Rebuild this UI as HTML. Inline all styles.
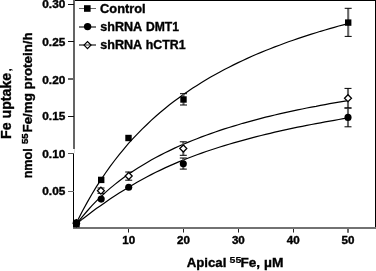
<!DOCTYPE html>
<html><head><meta charset="utf-8"><title>Fe uptake</title>
<style>html,body{margin:0;padding:0;background:#fff}body{width:376px;height:271px;overflow:hidden;position:relative}</style></head>
<body>
<svg width="376" height="271" viewBox="0 0 376 271" style="display:block;position:absolute;left:0;top:0">
<rect width="376" height="271" fill="#fff"/>
<g shape-rendering="crispEdges">
<rect x="73" y="0" width="303" height="1" fill="#000"/>
<rect x="375" y="0" width="1" height="229" fill="#000"/>
<rect x="73" y="0" width="2" height="149" fill="#646464"/>
<rect x="73" y="153" width="1" height="75" fill="#000"/>
<rect x="74" y="149" width="1" height="4" fill="#ddd"/>
<rect x="73" y="227" width="303" height="2" fill="#727272"/>
<rect x="68" y="4" width="6" height="1" fill="#111"/>
<rect x="68" y="41" width="6" height="1" fill="#111"/>
<rect x="68" y="78" width="6" height="2" fill="#666"/>
<rect x="68" y="116" width="6" height="1" fill="#111"/>
<rect x="68" y="153" width="6" height="1" fill="#555"/>
<rect x="68" y="191" width="6" height="1" fill="#666"/>
<rect x="128" y="229" width="1" height="3" fill="#222"/><rect x="128" y="232" width="1" height="1" fill="#888"/>
<rect x="183" y="229" width="1" height="3" fill="#222"/><rect x="183" y="232" width="1" height="1" fill="#888"/>
<rect x="238" y="229" width="1" height="3" fill="#222"/><rect x="238" y="232" width="1" height="1" fill="#888"/>
<rect x="293" y="229" width="1" height="3" fill="#222"/><rect x="293" y="232" width="1" height="1" fill="#888"/>
<rect x="347" y="229" width="2" height="3" fill="#666"/><rect x="347" y="232" width="2" height="1" fill="#888"/>
</g>
<path d="M78.0,219.7 L82.6,210.8 L87.2,202.4 L91.7,194.5 L96.3,186.9 L100.9,179.8 L105.5,173.0 L110.0,166.6 L114.6,160.5 L119.2,154.6 L123.8,149.1 L128.3,143.7 L132.9,138.7 L137.5,133.8 L142.1,129.1 L146.7,124.7 L151.2,120.4 L155.8,116.2 L160.4,112.3 L165.0,108.5 L169.5,104.8 L174.1,101.3 L178.7,97.9 L183.3,94.6 L187.8,91.4 L192.4,88.3 L197.0,85.4 L201.6,82.5 L206.1,79.8 L210.7,77.1 L215.3,74.5 L219.9,72.0 L224.4,69.5 L229.0,67.2 L233.6,64.9 L238.2,62.6 L242.8,60.5 L247.3,58.4 L251.9,56.3 L256.5,54.3 L261.1,52.4 L265.6,50.5 L270.2,48.7 L274.8,46.9 L279.4,45.2 L283.9,43.5 L288.5,41.8 L293.1,40.2 L297.7,38.6 L302.2,37.1 L306.8,35.6 L311.4,34.1 L316.0,32.7 L320.5,31.3 L325.1,30.0 L329.7,28.6 L334.3,27.3 L338.8,26.0 L343.4,24.8 L348.0,23.6" fill="none" stroke="#000" stroke-width="1.2"/>
<path d="M78.0,222.0 L82.6,216.3 L87.2,211.0 L91.7,205.9 L96.3,201.2 L100.9,196.7 L105.5,192.4 L110.0,188.4 L114.6,184.6 L119.2,181.0 L123.8,177.6 L128.3,174.3 L132.9,171.2 L137.5,168.2 L142.1,165.4 L146.7,162.7 L151.2,160.0 L155.8,157.5 L160.4,155.1 L165.0,152.8 L169.5,150.6 L174.1,148.4 L178.7,146.3 L183.3,144.3 L187.8,142.4 L192.4,140.5 L197.0,138.7 L201.6,136.9 L206.1,135.2 L210.7,133.6 L215.3,132.0 L219.9,130.4 L224.4,128.9 L229.0,127.5 L233.6,126.1 L238.2,124.7 L242.8,123.3 L247.3,122.1 L251.9,120.8 L256.5,119.6 L261.1,118.4 L265.6,117.2 L270.2,116.1 L274.8,115.0 L279.4,113.9 L283.9,112.9 L288.5,111.9 L293.1,110.9 L297.7,109.9 L302.2,109.0 L306.8,108.0 L311.4,107.1 L316.0,106.3 L320.5,105.4 L325.1,104.6 L329.7,103.7 L334.3,102.9 L338.8,102.2 L343.4,101.4 L348.0,100.6" fill="none" stroke="#000" stroke-width="1.2"/>
<path d="M78.0,222.7 L82.6,218.9 L87.2,215.4 L91.7,212.0 L96.3,208.6 L100.9,205.4 L105.5,202.2 L110.0,199.1 L114.6,196.1 L119.2,193.1 L123.8,190.2 L128.3,187.4 L132.9,184.7 L137.5,182.0 L142.1,179.5 L146.7,177.0 L151.2,174.6 L155.8,172.3 L160.4,170.1 L165.0,167.9 L169.5,165.9 L174.1,163.9 L178.7,161.9 L183.3,160.0 L187.8,158.2 L192.4,156.5 L197.0,154.8 L201.6,153.1 L206.1,151.5 L210.7,150.0 L215.3,148.5 L219.9,147.0 L224.4,145.6 L229.0,144.2 L233.6,142.9 L238.2,141.6 L242.8,140.3 L247.3,139.1 L251.9,137.8 L256.5,136.7 L261.1,135.5 L265.6,134.4 L270.2,133.3 L274.8,132.2 L279.4,131.2 L283.9,130.2 L288.5,129.2 L293.1,128.2 L297.7,127.2 L302.2,126.3 L306.8,125.4 L311.4,124.5 L316.0,123.6 L320.5,122.8 L325.1,121.9 L329.7,121.1 L334.3,120.3 L338.8,119.5 L343.4,118.7 L348.0,118.0" fill="none" stroke="#000" stroke-width="1.2"/>
<line x1="348.2" y1="8.3" x2="348.2" y2="36.4" stroke="#666" stroke-width="2.1"/><line x1="344.7" y1="8.3" x2="351.7" y2="8.3" stroke="#000" stroke-width="1"/><line x1="344.7" y1="36.4" x2="351.7" y2="36.4" stroke="#000" stroke-width="1"/>
<line x1="348" y1="88.4" x2="348" y2="108.0" stroke="#666" stroke-width="2.1"/><line x1="344.5" y1="88.4" x2="351.5" y2="88.4" stroke="#000" stroke-width="1"/><line x1="344.5" y1="108.0" x2="351.5" y2="108.0" stroke="#000" stroke-width="1"/>
<line x1="348" y1="108.0" x2="348" y2="126.8" stroke="#666" stroke-width="2.1"/><line x1="344.5" y1="108.0" x2="351.5" y2="108.0" stroke="#000" stroke-width="1"/><line x1="344.5" y1="126.8" x2="351.5" y2="126.8" stroke="#000" stroke-width="1"/>
<line x1="183.5" y1="93.7" x2="183.5" y2="105" stroke="#666" stroke-width="2.1"/><line x1="180.0" y1="93.7" x2="187.0" y2="93.7" stroke="#000" stroke-width="1"/><line x1="180.0" y1="105" x2="187.0" y2="105" stroke="#000" stroke-width="1"/>
<line x1="183.3" y1="141.8" x2="183.3" y2="155.3" stroke="#666" stroke-width="2.1"/><line x1="179.8" y1="141.8" x2="186.8" y2="141.8" stroke="#000" stroke-width="1"/><line x1="179.8" y1="155.3" x2="186.8" y2="155.3" stroke="#000" stroke-width="1"/>
<line x1="183.3" y1="158" x2="183.3" y2="169.1" stroke="#666" stroke-width="2.1"/><line x1="179.8" y1="158" x2="186.8" y2="158" stroke="#000" stroke-width="1"/><line x1="179.8" y1="169.1" x2="186.8" y2="169.1" stroke="#000" stroke-width="1"/>
<line x1="128.7" y1="172" x2="128.7" y2="180.2" stroke="#666" stroke-width="2.1"/><line x1="125.19999999999999" y1="172" x2="132.2" y2="172" stroke="#000" stroke-width="1"/><line x1="125.19999999999999" y1="180.2" x2="132.2" y2="180.2" stroke="#000" stroke-width="1"/>
<line x1="101.0" y1="188" x2="101.0" y2="193.3" stroke="#666" stroke-width="2.1"/><line x1="97.5" y1="188" x2="104.5" y2="188" stroke="#000" stroke-width="1"/><line x1="97.5" y1="193.3" x2="104.5" y2="193.3" stroke="#000" stroke-width="1"/>
<rect x="345.0" y="19.4" width="6.4" height="6.4" fill="#000"/>
<path d="M344.5,98.2 L348,94.7 L351.5,98.2 L348,101.7 Z" fill="#fff" stroke="#000" stroke-width="1.25"/>
<circle cx="348" cy="117.4" r="3.55" fill="#000"/>
<rect x="180.3" y="96.3" width="6.4" height="6.4" fill="#000"/>
<path d="M179.8,148.5 L183.3,145.0 L186.8,148.5 L183.3,152.0 Z" fill="#fff" stroke="#000" stroke-width="1.25"/>
<circle cx="183.3" cy="163.8" r="3.55" fill="#000"/>
<rect x="125.3" y="134.8" width="6.4" height="6.4" fill="#000"/>
<path d="M125.19999999999999,176 L128.7,172.5 L132.2,176 L128.7,179.5 Z" fill="#fff" stroke="#000" stroke-width="1.25"/>
<circle cx="128.7" cy="187.3" r="3.55" fill="#000"/>
<rect x="98.0" y="176.7" width="6.4" height="6.4" fill="#000"/>
<path d="M97.4,190.7 L100.9,187.2 L104.4,190.7 L100.9,194.2 Z" fill="#fff" stroke="#000" stroke-width="1.25"/>
<circle cx="101.2" cy="199.1" r="3.55" fill="#000"/>
<rect x="73.1" y="220.7" width="6.6" height="6.6" fill="#000"/>
<circle cx="76.4" cy="223.0" r="3.7" fill="#000"/>
<path d="M72.4,223.2 L76.4,218.8 L80.4,223.2 L76.4,227.8 Z" fill="#000"/>
<rect x="79" y="8" width="17" height="1" fill="#666" shape-rendering="crispEdges"/>
<rect x="84.0" y="5.2" width="6.6" height="6.6" fill="#000"/>
<rect x="79" y="26" width="17" height="2" fill="#777" shape-rendering="crispEdges"/>
<circle cx="87.6" cy="26.6" r="3.7" fill="#000"/>
<rect x="79" y="44" width="17" height="2" fill="#777" shape-rendering="crispEdges"/>
<path d="M84.0,45.1 L87.5,41.6 L91.0,45.1 L87.5,48.6 Z" fill="#fff" fill-opacity="0.25" stroke="#000" stroke-width="1.25"/>
<text x="100.1" y="12.8" font-size="12.2" text-anchor="start" textLength="45.6" lengthAdjust="spacingAndGlyphs" font-family="Liberation Sans, Arial, Helvetica, sans-serif" font-weight="bold" fill="#000" stroke="#000" stroke-width="0.35" >Control</text>
<text x="100.3" y="30.8" font-size="12.2" text-anchor="start" textLength="41.9" lengthAdjust="spacingAndGlyphs" font-family="Liberation Sans, Arial, Helvetica, sans-serif" font-weight="bold" fill="#000" stroke="#000" stroke-width="0.35" >shRNA</text><text x="145.9" y="30.8" font-size="12.2" text-anchor="start" textLength="33.1" lengthAdjust="spacingAndGlyphs" font-family="Liberation Sans, Arial, Helvetica, sans-serif" font-weight="bold" fill="#000" stroke="#000" stroke-width="0.35" >DMT1</text>
<text x="100.3" y="49.1" font-size="12.2" text-anchor="start" textLength="41.9" lengthAdjust="spacingAndGlyphs" font-family="Liberation Sans, Arial, Helvetica, sans-serif" font-weight="bold" fill="#000" stroke="#000" stroke-width="0.35" >shRNA</text><text x="145.8" y="49.1" font-size="12.2" text-anchor="start" textLength="39.8" lengthAdjust="spacingAndGlyphs" font-family="Liberation Sans, Arial, Helvetica, sans-serif" font-weight="bold" fill="#000" stroke="#000" stroke-width="0.35" >hCTR1</text>
<text x="42.3" y="195.2" font-size="10.2" text-anchor="start" textLength="23.0" lengthAdjust="spacingAndGlyphs" font-family="Liberation Sans, Arial, Helvetica, sans-serif" font-weight="bold" fill="#000" stroke="#000" stroke-width="0.35" >0.05</text>
<text x="42.3" y="157.7" font-size="10.2" text-anchor="start" textLength="23.0" lengthAdjust="spacingAndGlyphs" font-family="Liberation Sans, Arial, Helvetica, sans-serif" font-weight="bold" fill="#000" stroke="#000" stroke-width="0.35" >0.10</text>
<text x="42.3" y="120.2" font-size="10.2" text-anchor="start" textLength="23.0" lengthAdjust="spacingAndGlyphs" font-family="Liberation Sans, Arial, Helvetica, sans-serif" font-weight="bold" fill="#000" stroke="#000" stroke-width="0.35" >0.15</text>
<text x="42.3" y="83.8" font-size="10.2" text-anchor="start" textLength="23.0" lengthAdjust="spacingAndGlyphs" font-family="Liberation Sans, Arial, Helvetica, sans-serif" font-weight="bold" fill="#000" stroke="#000" stroke-width="0.35" >0.20</text>
<text x="42.3" y="45.7" font-size="10.2" text-anchor="start" textLength="23.0" lengthAdjust="spacingAndGlyphs" font-family="Liberation Sans, Arial, Helvetica, sans-serif" font-weight="bold" fill="#000" stroke="#000" stroke-width="0.35" >0.25</text>
<text x="42.3" y="8.2" font-size="10.2" text-anchor="start" textLength="23.0" lengthAdjust="spacingAndGlyphs" font-family="Liberation Sans, Arial, Helvetica, sans-serif" font-weight="bold" fill="#000" stroke="#000" stroke-width="0.35" >0.30</text>
<text x="122.2" y="244.2" font-size="10.0" text-anchor="start" textLength="12.9" lengthAdjust="spacingAndGlyphs" font-family="Liberation Sans, Arial, Helvetica, sans-serif" font-weight="bold" fill="#000" stroke="#000" stroke-width="0.35" >10</text>
<text x="177.0" y="244.2" font-size="10.0" text-anchor="start" textLength="12.9" lengthAdjust="spacingAndGlyphs" font-family="Liberation Sans, Arial, Helvetica, sans-serif" font-weight="bold" fill="#000" stroke="#000" stroke-width="0.35" >20</text>
<text x="231.9" y="244.2" font-size="10.0" text-anchor="start" textLength="12.9" lengthAdjust="spacingAndGlyphs" font-family="Liberation Sans, Arial, Helvetica, sans-serif" font-weight="bold" fill="#000" stroke="#000" stroke-width="0.35" >30</text>
<text x="286.7" y="244.2" font-size="10.0" text-anchor="start" textLength="12.9" lengthAdjust="spacingAndGlyphs" font-family="Liberation Sans, Arial, Helvetica, sans-serif" font-weight="bold" fill="#000" stroke="#000" stroke-width="0.35" >40</text>
<text x="341.5" y="244.2" font-size="10.0" text-anchor="start" textLength="12.9" lengthAdjust="spacingAndGlyphs" font-family="Liberation Sans, Arial, Helvetica, sans-serif" font-weight="bold" fill="#000" stroke="#000" stroke-width="0.35" >50</text>
<text x="186.7" y="266.8" font-size="12.5" text-anchor="start" textLength="39.7" lengthAdjust="spacingAndGlyphs" font-family="Liberation Sans, Arial, Helvetica, sans-serif" font-weight="bold" fill="#000" stroke="#000" stroke-width="0.35" >Apical</text>
<text x="229.6" y="263.3" font-size="9" text-anchor="start" textLength="11.7" lengthAdjust="spacingAndGlyphs" font-family="Liberation Sans, Arial, Helvetica, sans-serif" font-weight="bold" fill="#000" stroke="#000" stroke-width="0.15" >55</text>
<text x="240.4" y="266.8" font-size="12.5" text-anchor="start" textLength="19.6" lengthAdjust="spacingAndGlyphs" font-family="Liberation Sans, Arial, Helvetica, sans-serif" font-weight="bold" fill="#000" stroke="#000" stroke-width="0.35" >Fe,</text>
<text x="264.0" y="266.8" font-size="12.5" text-anchor="start" textLength="19.4" lengthAdjust="spacingAndGlyphs" font-family="Liberation Sans, Arial, Helvetica, sans-serif" font-weight="bold" fill="#000" stroke="#000" stroke-width="0.35" >µM</text>
<g transform="translate(10.6,138.9) rotate(-90)"><text x="0" y="0" font-size="14" text-anchor="start" textLength="66.1" lengthAdjust="spacingAndGlyphs" font-family="Liberation Sans, Arial, Helvetica, sans-serif" font-weight="bold" fill="#000" stroke="#000" stroke-width="0.35" >Fe uptake</text><text x="67.4" y="0.3" font-size="11.5" text-anchor="start" font-family="Liberation Sans, Arial, Helvetica, sans-serif" font-weight="bold" fill="#000" stroke="#000" stroke-width="0.1" >,</text></g>
<g transform="translate(32.2,178.3) rotate(-90)"><text x="0" y="0" font-size="12.5" text-anchor="start" textLength="30" lengthAdjust="spacingAndGlyphs" font-family="Liberation Sans, Arial, Helvetica, sans-serif" font-weight="bold" fill="#000" stroke="#000" stroke-width="0.35" >nmol</text><text x="34.2" y="-4.1" font-size="8.8" text-anchor="start" textLength="10.6" lengthAdjust="spacingAndGlyphs" font-family="Liberation Sans, Arial, Helvetica, sans-serif" font-weight="bold" fill="#000" stroke="#000" stroke-width="0.35" >55</text><text x="45.8" y="0" font-size="12.5" text-anchor="start" textLength="100.2" lengthAdjust="spacingAndGlyphs" font-family="Liberation Sans, Arial, Helvetica, sans-serif" font-weight="bold" fill="#000" stroke="#000" stroke-width="0.35" >Fe/mg protein/h</text></g>
</svg>
</body></html>
